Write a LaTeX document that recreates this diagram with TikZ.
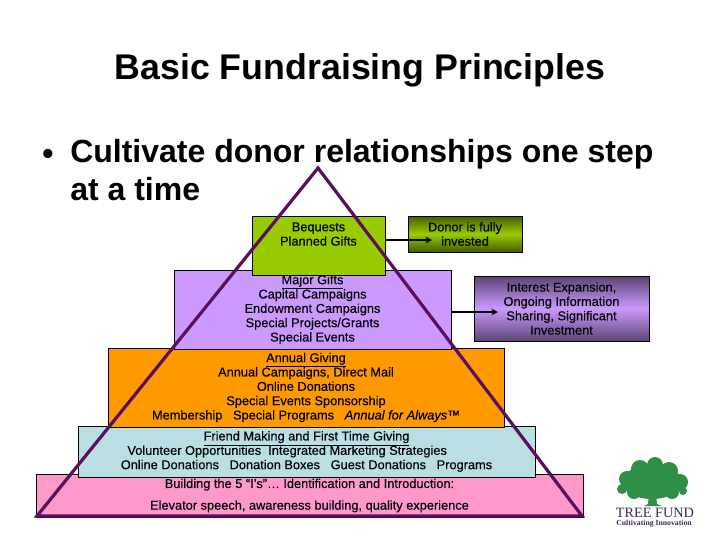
\documentclass[tikz,border=0pt]{standalone}
\usepackage{fontspec}
\setmainfont{Liberation Sans}
\newfontfamily\boxfont{Liberation Sans}[FakeBold=0.3]
\newfontfamily\logofont{Liberation Serif}
\newcommand{\levelhead}[1]{\raisebox{0pt}[\height][0pt]{\underline{#1}}}
\definecolor{triline}{HTML}{5A0F5C}
\definecolor{giftgreen}{HTML}{99CC00}
\definecolor{giftpurple}{HTML}{CC99FF}
\definecolor{giftorange}{HTML}{FF9900}
\definecolor{giftblue}{HTML}{B9DFE3}
\definecolor{giftpink}{HTML}{FF99CC}
\definecolor{treegreen}{HTML}{2F8F45}
\definecolor{logotext}{HTML}{3B2B57}
\usetikzlibrary{arrows.meta}

\begin{document}
\begin{tikzpicture}[x=0.75pt,y=-0.75pt,
	level/.style={draw=black,line width=0.6pt,align=center,inner sep=0pt,font=\boxfont\fontsize{9.6}{10.75}\selectfont},
	sidebox/.style={level,draw=black,top color=#1!45!black,bottom color=#1!45!black,middle color=#1},
	flow/.style={-{Stealth[length=5pt,width=5pt]},line width=1.6pt},
	treeblob/.style={fill=treegreen,draw=none}]
	\useasboundingbox (0,0) rectangle (720,540);

	\node (title) at (360,70) {\fontsize{26.8}{32}\selectfont\bfseries Basic Fundraising Principles};
	\node (bullet) at (48,157) {\fontsize{24}{28}\selectfont\bfseries •};
	\node[anchor=north west,inner sep=0pt,align=left,font=\fontsize{24}{28.5}\selectfont\bfseries] (body) at (70,139) {Cultivate donor relationships one step\\at a time};

	% pyramid levels, bottom one first
	\node[level,fill=giftpink,minimum width=410.25pt,minimum height=32.25pt] (awareness) at (309.5,495.5) {Building the 5 “I’s”…  Identification and Introduction:\\[5.5pt]Elevator speech, awareness building, quality experience};
	\node[level,fill=giftblue,minimum width=342.75pt,minimum height=38.25pt] (friend) at (306.5,451.5) {\levelhead{Friend Making and First Time Giving}\\Volunteer Opportunities~~Integrated Marketing Strategies\hspace{29pt}\mbox{}\\Online Donations~~~Donation Boxes~~~Guest Donations~~~Programs};
	\node[level,fill=giftorange,minimum width=297pt,minimum height=59.25pt] (annual) at (306,387.5) {\levelhead{Annual Giving}\\Annual Campaigns, Direct Mail\\Online Donations\\Special Events Sponsorship\\Membership~~~Special Programs~~~\textit{Annual for Always}™};
	\node[level,fill=giftpurple,minimum width=207.75pt,minimum height=59.25pt] (major) at (312.5,309.5) {\levelhead{Major Gifts}\\Capital Campaigns\\Endowment Campaigns\\Special Projects/Grants\\Special Events};
	\node[level,fill=giftgreen,minimum width=99.75pt,minimum height=44.25pt] (bequests) at (318.5,245.5) {Bequests\\Planned Gifts\\[6.5pt]\mbox{}};

	% boxes on the right
	\node[sidebox=giftgreen,minimum width=85.5pt,minimum height=27pt] (invested) at (465,234) {Donor is fully\\invested};
	\node[sidebox=giftpurple,minimum width=131.25pt,minimum height=48.75pt] (interest) at (561.5,308.5) {Interest Expansion,\\Ongoing Information\\Sharing, Significant\\Investment};

	\coordinate (investedtip) at (432,240);
	\coordinate (interesttip) at (498,312);
	\draw[flow] (bequests.east |- investedtip) -- (investedtip);
	\draw[flow] (major.east |- interesttip) -- (interesttip);

	% triangle over everything
	\coordinate (apex) at (318,168);
	\coordinate (baseleft) at (37,516);
	\coordinate (baseright) at (582,516);
	\draw[triline,line width=2.4pt,line join=miter] (apex) -- (baseleft) -- (baseright) -- cycle;

	% logo
	\fill[treeblob] (652,482) ellipse (30 and 17);
	\fill[treeblob] (640,469) circle (9);
	\fill[treeblob] (655,465) circle (8);
	\fill[treeblob] (669,471) circle (9);
	\fill[treeblob] (627,479) circle (8);
	\fill[treeblob] (680,482) circle (8);
	\fill[treeblob] (622,489) circle (5);
	\fill[treeblob] (634,492) circle (7);
	\fill[treeblob] (672,492) circle (7);
	\fill[treeblob] (683,491) circle (4);
	\fill[treeblob] (649,494) -- (648,504) -- (644,506) -- (662,506) -- (657,504) -- (656,494) -- cycle;
	\node[inner sep=0pt,text=logotext,font=\logofont\fontsize{10.7}{12}\selectfont] (treefund) at (655,512.5) {TREE FUND};
	\node[inner sep=0pt,text=logotext,font=\logofont\bfseries\fontsize{5.8}{7}\selectfont] (cultivating) at (654,524) {Cultivating Innovation};
\end{tikzpicture}
\end{document}
